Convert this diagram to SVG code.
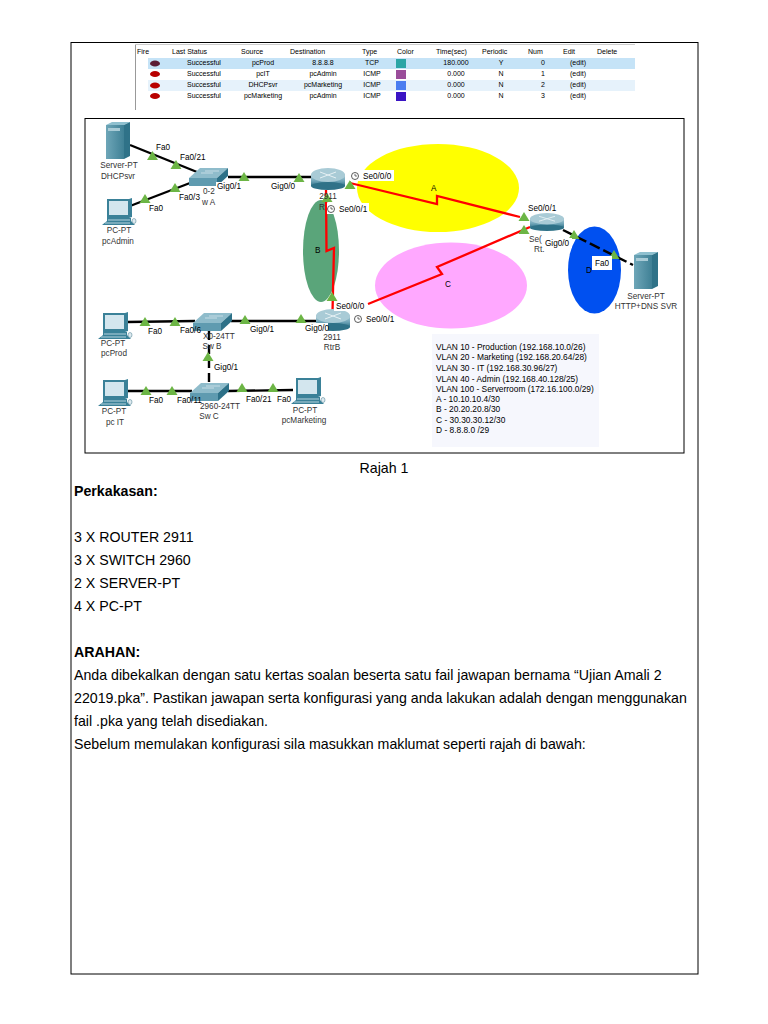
<svg xmlns="http://www.w3.org/2000/svg" width="768" height="1024" viewBox="0 0 768 1024">
<style>
text{font-family:"Liberation Sans",Arial,sans-serif;fill:#000}
.doc{font-size:14.2px}
.b{font-weight:bold}
.t{font-size:7px;fill:#333}
.c{text-anchor:middle}
.l{font-size:8.2px;fill:#333}
.v{font-size:8.4px;fill:#334}
.eth{stroke:#000;stroke-width:2.4;fill:none}
.ser{stroke:#f00;stroke-width:2.3;fill:none}
.w{fill:#fff}
</style>
<defs>
<linearGradient id="srv" x1="0" x2="1"><stop offset="0" stop-color="#6ea6b8"/><stop offset="1" stop-color="#3f8095"/></linearGradient>
<linearGradient id="rt" x1="0" y1="0" x2="0" y2="1"><stop offset="0" stop-color="#b4d2dc"/><stop offset="0.6" stop-color="#6da3b6"/><stop offset="1" stop-color="#2f7288"/></linearGradient>
<polygon id="tri" points="0,-6 5.500,3 -5.500,3" fill="#6cb545"/>
<g id="server">
<polygon points="0,3 18,3 18,37 0,37" fill="url(#srv)"/>
<polygon points="0,3 6,0 24,0 18,3" fill="#8fc0cf"/>
<polygon points="18,3 24,0 24,34 18,37" fill="#2f7288"/>
<rect x="2" y="6" width="12" height="3" fill="#a9cbd6"/>
</g>
<g id="pc">
<polygon points="5,1 27,1 30,0 30,19 27,20 5,20" fill="#3a8198"/>
<rect x="7" y="3" width="19" height="14" fill="#d3e6ee"/>
<polygon points="5,20 29,20 29,23 33,27 0,27 5,23" fill="#3a8198"/>
<rect x="6" y="21.500" width="22" height="1" fill="#b5d4de"/>
<rect x="3" y="24.500" width="25" height="1" fill="#b5d4de"/>
<ellipse cx="32" cy="23" rx="2" ry="2.500" fill="#dfeaf0" stroke="#5b8c9c" stroke-width="0.6"/>
</g>
<g id="switch">
<polygon points="11,0 39,0 28,10 0,10" fill="#8fbccb"/>
<polygon points="0,10 28,10 28,18 0,18" fill="#5f9bb0"/>
<polygon points="28,10 39,0 39,8 28,18" fill="#2d7188"/>
<path d="M12,5H24M16,3H30" stroke="#dcebf0" stroke-width="0.7"/>
</g>
<g id="router">
<rect x="0" y="6" width="34" height="12" fill="url(#rt)"/>
<ellipse cx="17" cy="18" rx="17" ry="4" fill="#2f7288"/>
<ellipse cx="17" cy="7" rx="17" ry="7" fill="#a9cbd6"/>
<path d="M9,4L25,10M25,4L9,10" stroke="#e6f1f4" stroke-width="1"/>
</g>
<g id="clock"><circle r="3.500" fill="#fff" stroke="#333" stroke-width="0.8"/><path d="M0,-2V0H2" stroke="#333" stroke-width="0.7" fill="none"/></g>
</defs>
<rect width="768" height="1024" fill="#fff"/>
<rect x="71" y="42.500" width="627" height="931.500" fill="#fff" stroke="#000"/>

<g id="pdu-table">
<rect x="135" y="44" width="500" height="1" fill="#ccc"/>
<rect x="135" y="45" width="1" height="65" fill="#999"/>
<rect x="148" y="58" width="487" height="11" fill="#c5e3f7"/>
<rect x="148" y="80" width="487" height="11" fill="#e6f2fb"/>
<g class="t">
<text x="137" y="54">Fire</text><text x="172" y="54">Last Status</text><text x="241" y="54">Source</text><text x="290" y="54">Destination</text><text x="362" y="54">Type</text><text x="397" y="54">Color</text><text x="436" y="54">Time(sec)</text><text x="482" y="54">Periodic</text><text x="528" y="54">Num</text><text x="563" y="54">Edit</text><text x="597" y="54">Delete</text>
</g>
<g class="t c">
<text x="204" y="65">Successful</text><text x="263" y="65">pcProd</text><text x="323" y="65">8.8.8.8</text><text x="372" y="65">TCP</text><text x="456" y="65">180.000</text><text x="501" y="65">Y</text><text x="543" y="65">0</text><text x="578" y="65">(edit)</text>
<text x="204" y="76">Successful</text><text x="263" y="76">pcIT</text><text x="323" y="76">pcAdmin</text><text x="372" y="76">ICMP</text><text x="456" y="76">0.000</text><text x="501" y="76">N</text><text x="543" y="76">1</text><text x="578" y="76">(edit)</text>
<text x="204" y="87">Successful</text><text x="263" y="87">DHCPsvr</text><text x="323" y="87">pcMarketing</text><text x="372" y="87">ICMP</text><text x="456" y="87">0.000</text><text x="501" y="87">N</text><text x="543" y="87">2</text><text x="578" y="87">(edit)</text>
<text x="204" y="98">Successful</text><text x="263" y="98">pcMarketing</text><text x="323" y="98">pcAdmin</text><text x="372" y="98">ICMP</text><text x="456" y="98">0.000</text><text x="501" y="98">N</text><text x="543" y="98">3</text><text x="578" y="98">(edit)</text>
</g>
<g fill="#b80000"><ellipse cx="155" cy="63.500" rx="5" ry="3" fill="#5c1c34"/><ellipse cx="155" cy="74" rx="5" ry="3"/><ellipse cx="155" cy="85.500" rx="5" ry="3"/><ellipse cx="155" cy="96" rx="5" ry="3"/></g>
<rect x="396" y="59" width="10" height="9" fill="#2ba5a5"/><rect x="396" y="70" width="10" height="9" fill="#9a4d9a"/><rect x="396" y="81" width="10" height="9" fill="#4a7df0"/><rect x="396" y="92" width="10" height="9" fill="#3a14c4"/>
</g>

<rect x="85" y="118.500" width="599" height="334.500" fill="#fff" stroke="#000"/>

<g id="clouds">
<ellipse cx="438" cy="188" rx="81" ry="44" fill="#ffff00"/>
<ellipse cx="451" cy="285.500" rx="76" ry="43" fill="#ffa8ff"/>
<ellipse cx="594.500" cy="270" rx="26.500" ry="43.500" fill="#0050f0"/>
<ellipse cx="321" cy="251" rx="18" ry="51" fill="#5aa57a"/>
</g>

<g id="connectors">
<path class="eth" d="M130,145L197,172"/>
<path class="eth" d="M130,206L190,183"/>
<path class="eth" d="M228,177L311,177"/>
<path class="eth" d="M127,322L195,321"/>
<path class="eth" d="M231,321L316,321"/>
<path class="eth" d="M209,331V383" stroke-dasharray="9 5"/>
<path class="eth" d="M128,391L192,391"/>
<path class="eth" d="M228,391L293,390"/>
<path class="eth" d="M563,230L633,265" stroke-dasharray="11 4"/>
<path class="ser" d="M350,183L437,204L437,196L520,217"/>
<path class="ser" d="M326,190L326.500,251L334,248L332.500,312"/>
<path class="ser" d="M368,304L442,274L437,267L530,227"/>
<use href="#tri" x="152.500" y="157"/><use href="#tri" x="176" y="166"/><use href="#tri" x="175" y="189"/><use href="#tri" x="145" y="200"/>
<use href="#tri" x="244" y="178"/><use href="#tri" x="299" y="179"/><use href="#tri" x="350" y="186"/><use href="#tri" x="327" y="199"/>
<use href="#tri" x="145" y="323"/><use href="#tri" x="175" y="323"/><use href="#tri" x="245" y="321"/><use href="#tri" x="301" y="320"/>
<use href="#tri" x="208" y="358"/><use href="#tri" x="332" y="298"/>
<use href="#tri" x="146" y="392"/><use href="#tri" x="172" y="392"/><use href="#tri" x="242" y="389"/><use href="#tri" x="273" y="389"/>
<use href="#tri" x="524" y="218"/><use href="#tri" x="524" y="231"/><use href="#tri" x="574" y="236"/><use href="#tri" x="614" y="256"/>
</g>

<g id="cloud-labels" class="l">
<text x="431" y="191">A</text><text x="315" y="253">B</text><text x="445" y="287">C</text><text x="586" y="273">D</text>
</g>

<g id="dhcpsvr"><use href="#server" x="106" y="122"/><text class="l c" x="119" y="168">Server-PT</text><text class="l c" x="118" y="179">DHCPsvr</text></g>
<g id="pcadmin"><use href="#pc" x="102" y="198"/><text class="l c" x="119" y="233">PC-PT</text><text class="l c" x="118" y="244">pcAdmin</text></g>
<g id="swa"><use href="#switch" x="189" y="168"/><rect class="w" x="190" y="188" width="40" height="18"/><text class="l" x="203" y="194">0-2</text><text class="l" x="202" y="205">w A</text></g>
<g id="routerR"><use href="#router" x="311" y="168"/><text class="l c" x="328" y="199">2911</text><text class="l" x="319" y="210">R</text></g>
<g id="rtrA"><use href="#router" transform="translate(530,213) scale(1,0.82)"/><text class="l" x="529" y="242">Se(</text><text class="l" x="534" y="252">Rt.</text></g>
<g id="http"><use href="#server" x="634" y="252"/><text class="l c" x="646" y="299">Server-PT</text><text class="l c" x="646" y="309">HTTP+DNS SVR</text></g>
<g id="pcprod"><use href="#pc" x="98" y="312"/><text class="l c" x="113" y="346">PC-PT</text><text class="l c" x="114" y="356">pcProd</text></g>
<g id="swb"><use href="#switch" x="193" y="313"/><text class="l" x="203" y="339">X0-24TT</text><text class="l c" x="212" y="349">Sw B</text></g>
<g id="rtrb"><use href="#router" x="316" y="309"/><text class="l c" x="332" y="340">2911</text><text class="l c" x="332" y="350">RtrB</text></g>
<g id="pcit"><use href="#pc" x="98" y="379"/><text class="l c" x="114" y="414">PC-PT</text><text class="l c" x="115" y="425">pc IT</text></g>
<g id="swc"><use href="#switch" x="190" y="383"/><text class="l" x="200" y="409">2960-24TT</text><text class="l c" x="209" y="419">Sw C</text></g>
<g id="pcmarketing"><use href="#pc" x="291" y="377"/><text class="l c" x="305" y="413">PC-PT</text><text class="l c" x="304" y="423">pcMarketing</text></g>

<g id="if-labels" class="l">
<text x="156" y="150">Fa0</text><text x="180" y="160">Fa0/21</text>
<text x="149" y="211">Fa0</text><text x="179" y="200">Fa0/3</text>
<rect class="w" x="216" y="182" width="24" height="9"/><text x="217" y="189">Gig0/1</text>
<text x="271" y="189">Gig0/0</text>
<rect class="w" x="350" y="170" width="44" height="11"/><use href="#clock" x="355" y="176"/><text x="363" y="179">Se0/0/0</text>
<rect class="w" x="327" y="203" width="42" height="11"/><use href="#clock" x="331" y="209"/><text x="339" y="212">Se0/0/1</text>
<text x="148" y="334">Fa0</text><text x="180" y="333">Fa0/6</text><text x="250" y="332">Gig0/1</text>
<rect class="w" x="304" y="323" width="24" height="10"/><text x="305" y="331">Gig0/0</text>
<rect class="w" x="334" y="301" width="32" height="10"/><text x="336" y="309">Se0/0/0</text>
<use href="#clock" x="358" y="319"/><text x="366" y="322">Se0/0/1</text>
<text x="214" y="370">Gig0/1</text>
<text x="149" y="403">Fa0</text><text x="177" y="403">Fa0/11</text><text x="246" y="402">Fa0/21</text><text x="277" y="402">Fa0</text>
<text x="528" y="211">Se0/0/1</text>
<rect class="w" x="544" y="238" width="28" height="10"/><text x="545" y="246">Gig0/0</text>
<rect class="w" x="592" y="256" width="20" height="14"/><text x="595" y="266">Fa0</text>
</g>

<g id="vlan-notes">
<rect x="432" y="334" width="167" height="113" fill="#f6f7fd"/>
<g class="v">
<text x="436" y="350">VLAN 10 - Production  (192.168.10.0/26)</text>
<text x="436" y="360">VLAN 20 - Marketing (192.168.20.64/28)</text>
<text x="436" y="371">VLAN 30 -  IT (192.168.30.96/27)</text>
<text x="436" y="382">VLAN 40 - Admin  (192.168.40.128/25)</text>
<text x="436" y="392">VLAN 100 - Serverroom (172.16.100.0/29)</text>
<text x="436" y="402">A - 10.10.10.4/30</text>
<text x="436" y="412">B - 20.20.20.8/30</text>
<text x="436" y="423">C - 30.30.30.12/30</text>
<text x="436" y="433">D - 8.8.8.0 /29</text>
</g>
</g>

<g id="document-text" class="doc">
<text class="c" x="384" y="473">Rajah 1</text>
<text class="b" x="74" y="496">Perkakasan:</text>
<text x="74" y="542">3 X ROUTER 2911</text>
<text x="74" y="565">3 X SWITCH 2960</text>
<text x="74" y="588">2 X SERVER-PT</text>
<text x="74" y="611">4 X PC-PT</text>
<text class="b" x="74" y="657">ARAHAN:</text>
<text x="74" y="680">Anda dibekalkan dengan satu kertas soalan beserta satu fail jawapan bernama “Ujian Amali 2</text>
<text x="74" y="703">22019.pka”. Pastikan jawapan serta konfigurasi yang anda lakukan adalah dengan menggunakan</text>
<text x="74" y="726">fail .pka yang telah disediakan.</text>
<text x="74" y="749">Sebelum memulakan konfigurasi sila masukkan maklumat seperti rajah di bawah:</text>
</g>
</svg>
